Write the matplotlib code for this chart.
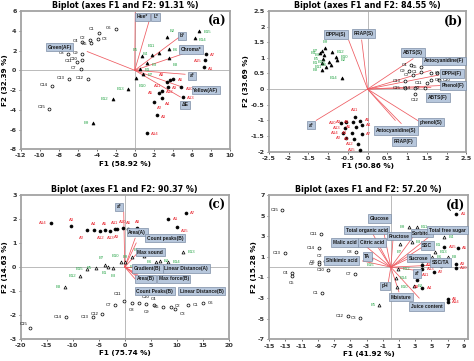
"""Four PCA biplots (a)-(d): sample scores A/B/C plus variable vectors."""

import matplotlib
matplotlib.use("Agg")
import matplotlib.pyplot as plt
import numpy as np

plt.rcParams["font.family"] = ["DejaVu Sans"]

# ---------------------------------------------------------------- data
# panel (a)
A_TITLE = "Biplot (axes F1 and F2: 91.31 %)"
A_XLAB, A_YLAB = "F1 (58.92 %)", "F2 (32.39 %)"
A_GRP_A = [("A1", 7.26, 0.30), ("A2", 2.0, -3.24), ("A3", 2.36, -4.55),
           ("A4", 2.92, -2.8), ("A5", 2.54, -2.26), ("A6", 4.08, -0.84),
           ("A7", 7.5, 1.65), ("A8", 3.73, -0.98), ("A9", 3.45, -1.65),
           ("A10", 4.92, -1.72), ("A11", 3.4, -1.15), ("A12", 2.88, -2.06),
           ("A13", 5.05, -2.67), ("A14", 1.24, -6.31), ("A15", 7.44, 1.05)]
A_GRP_B = [("B1", 0.6, 0.13), ("B2", 3.4, 3.4), ("B3", 1.3, 0.7),
           ("B4", 1.8, 1.5), ("B5", 0.8, 1.4), ("B6", 3.6, 2.2),
           ("B7", 0.9, -0.37), ("B8", 3.6, 1.2), ("B9", -4.4, -5.36),
           ("B10", 0.1, -0.8), ("B11", 2.6, 1.8), ("B12", -2.33, -2.9),
           ("B13", -0.69, -1.92), ("B14", 6.3, 3.25), ("B15", 6.8, 4.0)]
A_GRP_C = [("C1", -3.8, 3.74), ("C2", -4.75, 3.1), ("C3", -3.88, 3.17),
           ("C4", -5.5, 2.85), ("C5", -4.6, 2.8), ("C6", -2.0, 4.18),
           ("C7", -5.7, 0.1), ("C8", -7.0, 1.62), ("C9", -5.5, 1.62),
           ("C10", -5.6, 1.04), ("C11", -6.1, 0.8), ("C12", -4.9, -0.91),
           ("C13", -6.9, -0.91), ("C14", -8.7, -1.59), ("C15", -9.0, -3.9)]
A_VARS = [("Hue*", 0.05, 5.9), ("L*", 1.7, 5.6), ("b*", 4.6, 3.3),
          ("Chroma*", 5.5, 1.8), ("a*", 5.3, -0.4), ("Yellow(AF)", 5.0, -1.7),
          ("ΔE", 4.8, -2.7), ("Green(AF)", -5.0, 1.9)]

# panel (b)
B_TITLE = "Biplot (axes F1 and F2: 84.55 %)"
B_XLAB, B_YLAB = "F1 (50.86 %)", "F2 (33.69 %)"
B_GRP_A = [("A1", -0.35, -1.6), ("A2", -0.55, -1.55), ("A3", -0.4, -1.4),
           ("A4", -0.15, -1.15), ("A5", -0.18, -1.03), ("A6", -0.3, -1.2),
           ("A7", -0.15, -1.45), ("A8", -0.37, -1.05), ("A9", -0.55, -1.05),
           ("A10", -0.68, -1.1), ("A11", -0.32, -0.88), ("A12", -0.25, -1.75),
           ("A13", -0.57, -1.25), ("A14", -0.62, -1.4), ("A15", -0.2, -1.95)]
B_GRP_B = [("B1", -1.15, 0.82), ("B2", -0.78, 0.92), ("B3", -1.1, 1.1),
           ("B4", -1.2, 1.17), ("B5", -1.12, 0.96), ("B6", -0.93, 0.76),
           ("B7", -1.15, 1.22), ("B8", -1.15, 0.6), ("B9", -1.08, 1.3),
           ("B10", -0.8, 1.02), ("B11", -1.05, 0.7), ("B12", -0.9, 1.2),
           ("B13", -0.97, 0.87), ("B14", -0.65, 0.35)]
B_GRP_C = [("C1", 1.35, 0.55), ("C2", 1.45, 0.02), ("C3", 1.6, 0.5),
           ("C4", 1.1, 0.78), ("C5", 1.35, 0.7), ("C6", 1.75, 0.5),
           ("C7", 1.15, 0.45), ("C8", 1.6, 0.3), ("C9", 1.05, 0.58),
           ("C10", 1.8, 0.28), ("C11", 1.5, 0.2), ("C12", 1.2, -0.15),
           ("C13", 0.95, 0.25), ("C14", 1.2, 0.05), ("C15", 0.95, 0.02)]
B_VARS = [("DPPH(S)", -0.48, 1.57), ("FRAP(S)", -0.15, 1.57),
          ("ABTS(S)", 1.15, 0.97), ("Antocyanidine(F)", 1.6, 0.6),
          ("DPPH(F)", 1.8, 0.45), ("Phenol(F)", 1.95, 0.12),
          ("ABTS(F)", 1.6, 0.05), ("phenol(S)", 1.3, -1.03),
          ("Antocyanidine(S)", 0.85, -1.1), ("FRAP(F)", 0.7, -1.0),
          ("a*", -1.3, -1.0)]

# panel (c)
C_TITLE = "Biplot (axes F1 and F2: 90.37 %)"
C_XLAB, C_YLAB = "F1 (75.74 %)", "F2 (14.63 %)"
C_GRP_A = [("A1", 8.4, 1.99), ("A2", -7.2, 1.54), ("A3", -10.3, 1.71),
           ("A4", -5.9, 1.54), ("A5", -3.85, 1.54), ("A6", 0.7, 1.58),
           ("A7", 11.7, 2.24), ("A8", 2.44, 1.61), ("A9", -1.54, 1.58),
           ("A10", -0.38, 1.61), ("A11", -1.86, 1.57), ("A12", -4.7, 1.51),
           ("A13", -2.76, 1.51), ("A14", -14.2, 1.82), ("A15", 10.1, 1.68)]
C_GRP_B = [("B1", -3.2, 0.0), ("B2", 6.7, 0.24), ("B3", -2.2, -0.05),
           ("B4", 0.06, 0.19), ("B5", -5.5, -0.05), ("B6", 6.1, 0.22),
           ("B7", -3.8, 0.1), ("B8", -11.4, -0.85), ("B9", 1.35, 0.43),
           ("B10", -0.77, 0.19), ("B11", 3.7, 0.46), ("B12", -8.6, -0.38),
           ("B13", 11.2, 0.61), ("B14", 8.4, 0.22), ("B15", -7.2, -0.08)]
C_GRP_C = [("C1", 12.2, -1.6), ("C2", 8.85, -1.67), ("C3", 9.7, -1.76),
           ("C4", 5.6, -1.6), ("C5", 7.4, -1.65), ("C6", 15.1, -1.51),
           ("C7", -1.86, -1.6), ("C8", 1.35, -1.49), ("C9", 4.1, -1.54),
           ("C10", 2.8, -1.49), ("C11", -0.19, -1.4), ("C12", -4.3, -1.96),
           ("C13", -6.2, -2.1), ("C14", -11.3, -2.1), ("C15", -18.2, -2.56)]
C_VARS = [("a*", -0.2, 2.3), ("Area(A)", 2.0, 1.2), ("Count peaks(B)", 2.2, 1.0),
          ("Max sound", 2.3, 0.55), ("Gradient(B)", 2.5, -0.05),
          ("Linear Distance(A)", 2.6, 0.0), ("Area(B)", 2.3, -0.4),
          ("Max force(B)", 2.5, -0.3), ("Count Peaks(B)", 2.0, -0.5),
          ("Linear Distance(B)", 2.4, -0.35)]

# panel (d)
D_TITLE = "Biplot (axes F1 and F2: 57.20 %)"
D_XLAB, D_YLAB = "F1 (41.92 %)", "F2 (15.28 %)"
D_GRP_A = [("A1", 8.1, 5.2), ("A2", 5.3, -0.5), ("A3", 3.8, 0.2),
           ("A4", 3.9, -2.0), ("A5", 8.3, 1.9), ("A6", 7.0, -3.1),
           ("A7", 6.2, 0.15), ("A8", 3.2, -1.2), ("A9", 8.0, 0.3),
           ("A10", 8.0, -0.1), ("A11", 3.3, -0.8), ("A12", 3.9, 0.6),
           ("A13", 3.9, -0.2), ("A14", 7.0, -3.4), ("A15", 6.6, 2.0)]
D_GRP_B = [("B1", 5.0, 2.1), ("B2", 2.8, -1.8), ("B3", 2.6, 2.4),
           ("B4", 6.6, 2.9), ("B5", -1.4, -3.7), ("B6", 5.1, 1.0),
           ("B7", 1.1, 2.2), ("B8", 7.0, 1.0), ("B9", 2.3, 3.9),
           ("B10", 0.7, -1.9), ("B11", 3.2, 3.9), ("B12", 0.9, -0.2),
           ("B13", 5.5, 1.5), ("B14", 0.6, -1.1), ("B15", -2.5, 0.9)]
D_GRP_C = [("C1", -8.5, -2.54), ("C2", -8.1, 0.6), ("C3", -3.8, -4.9),
           ("C4", -12.2, -0.6), ("C5", -12.2, -0.85), ("C6", -8.8, 0.45),
           ("C7", -4.4, -0.66), ("C8", -4.25, 1.5), ("C9", -8.9, 0.27),
           ("C10", -7.7, -0.27), ("C11", -8.6, 3.2), ("C12", -5.3, -4.74),
           ("C13", -13.1, 1.4), ("C14", -8.9, 1.83), ("C15", -13.4, 5.54)]
D_VARS = [("Glucose", -1.0, 3.9), ("Total organic acid", -2.2, 3.2),
          ("Malic acid", -3.5, 2.3), ("Citric acid", -1.8, 2.2),
          ("TA", -2.5, 1.0), ("Shikimic acid", -3.5, 0.6),
          ("Fructose", 0.3, 3.0), ("Sorbitol", 2.8, 3.0),
          ("Total free sugar", 5.3, 3.3), ("SSC", 4.0, 2.0),
          ("Sucrose", 2.6, 1.0), ("SSC/TA", 5.5, 0.2), ("a*", 3.0, -0.3),
          ("pH", -0.3, -1.4), ("Moisture", 1.0, -2.4),
          ("Juice content", 3.5, -3.0)]

# ------------------------------------------------------------- layout
# where each variable's box sits (data coords of box centre)
A_BOX = {"Hue*": (0.8, 5.4), "L*": (2.2, 5.4), "b*": (5.0, 3.5),
         "Chroma*": (5.9, 2.1), "a*": (6.0, -0.55), "Yellow(AF)": (7.5, -2.0),
         "ΔE": (5.3, -3.5), "Green(AF)": (-7.9, 2.35)}
B_BOX = {"DPPH(S)": (-0.8, 1.75), "FRAP(S)": (-0.1, 1.78),
         "ABTS(S)": (1.15, 1.17), "Antocyanidine(F)": (1.93, 0.9),
         "DPPH(F)": (2.14, 0.5), "Phenol(F)": (2.15, 0.12),
         "ABTS(F)": (1.78, -0.27), "phenol(S)": (1.6, -1.06),
         "Antocyanidine(S)": (0.72, -1.32), "FRAP(F)": (0.92, -1.68),
         "a*": (-1.42, -1.15)}
C_BOX = {"a*": (-1.1, 2.5), "Area(A)": (2.4, 1.45), "Count peaks(B)": (7.8, 1.2),
         "Max sound": (4.9, 0.62), "Gradient(B)": (4.4, -0.06),
         "Linear Distance(A)": (11.8, -0.06), "Area(B)": (4.0, -0.5),
         "Max force(B)": (9.4, -0.5), "Count Peaks(B)": (5.8, -1.0),
         "Linear Distance(B)": (14.8, -1.0)}
D_BOX = {"Glucose": (-1.4, 4.7), "Total organic acid": (-3.0, 3.6),
         "Malic acid": (-5.7, 2.4), "Citric acid": (-2.3, 2.4),
         "TA": (-2.9, 1.05), "Shikimic acid": (-6.1, 0.65),
         "Fructose": (1.0, 3.0), "Sorbitol": (3.8, 3.3),
         "Total free sugar": (7.0, 3.6), "SSC": (4.5, 2.1),
         "Sucrose": (3.4, 0.86), "SSC/TA": (6.1, 0.44), "a*": (3.2, -0.6),
         "pH": (-0.7, -1.8), "Moisture": (1.3, -2.9),
         "Juice content": (4.4, -3.8)}

RED = "#e8212b"
GREEN = "#2aa64a"
VEC = "#ee5a60"
BOXFC = "#b7c7dc"
BOXEC = "#7d8ea6"
FRAME = "#a3a3a3"
BOXFONT = ["Liberation Sans", "DejaVu Sans"]

# per-point label offsets in points (default per group, then overrides)
OFF = {
    "a": {"A": (3, -1), "B": (3, -1), "C": (-3, 1),
          "over": {"A15": (-3, -1), "A8": (-4, 2), "A11": (-4, -2),
                   "A5": (-4, 0), "B11": (-3, 3), "B4": (-3, 1), "B5": (-3, 3),
                   "B10": (2, -4), "B13": (-3, 0), "B12": (-3, 0), "B9": (-3, 0),
                   "B2": (2, 3), "B8": (3, -3), "A2": (2, -3), "A4": (2, -3),
                   "C1": (-3, 2), "C3": (3, 0), "C5": (-3, -1), "C6": (-3, 1)}},
    "b": {"A": (-3, 0), "B": (-3, 0), "C": (-3, 0),
          "over": {"A11": (0, 3), "A4": (3, 0), "A5": (3, 1), "A7": (3, 0),
                   "B12": (3, 0), "B10": (3, 0), "B2": (3, 0), "B14": (-3, 0),
                   "B9": (0, 3), "C10": (3, 0), "C6": (3, 0), "C3": (3, 0),
                   "C12": (0, -3), "C8": (3, 0)}},
    "c": {"A": (0, 3), "B": (-3, 0), "C": (-3, 0),
          "over": {"A14": (-3, 0), "A2": (-2, -4), "A12": (0, -4),
                   "A13": (0, -4), "A9": (0, -4), "A1": (3, 0), "A15": (3, -2),
                   "A7": (3, 0), "B13": (3, 0), "B2": (3, 0), "B14": (3, 0),
                   "B11": (-2, 3), "B7": (-1, 3), "B1": (-1, -3), "B3": (0, -4),
                   "B10": (-1, 3), "B4": (3, -2), "C8": (0, -4), "C9": (0, -4),
                   "C10": (2, 3), "C4": (0, 3), "C2": (3, 1), "C3": (3, -2),
                   "C1": (3, 0), "C6": (3, 0), "C11": (-2, 3), "C15": (-2, 2)}},
    "d": {"A": (3, 0), "B": (3, 0), "C": (-3, 0),
          "over": {"A7": (-3, 0), "A8": (0, -4), "B9": (-3, 0), "B7": (0, -4),
                   "B15": (0, -4), "B5": (-3, 0), "B10": (3, 0),
                   "C5": (0, -4), "C2": (-2, 2)}},
}


def draw_group(ax, pts, marker, mfc, lab_col, offs, key):
    xs = [p[1] for p in pts]
    ys = [p[2] for p in pts]
    ax.scatter(xs, ys, s=4.5, marker=marker, facecolors=mfc,
               edgecolors="black", linewidths=0.5, zorder=4)
    for name, x, y in pts:
        dx, dy = offs["over"].get(name, offs[key])
        ha = "left" if dx > 0 else ("right" if dx < 0 else "center")
        va = "bottom" if dy > 1 else ("top" if dy < -1 else "center")
        ax.annotate(name, (x, y), xytext=(dx, dy), textcoords="offset points",
                    fontsize=3.1, color=lab_col, ha=ha, va=va, zorder=5,
                    family=BOXFONT)


def plot_panel(ax, title, xlab, ylab, grp_a, grp_b, grp_c, vars_, boxes,
               xlim, ylim, xticks, yticks, tag, offs, tri_fill):
    ax.set_xlim(*xlim)
    ax.set_ylim(*ylim)
    ax.axhline(0, color="#b0b0b0", lw=0.6, zorder=1)
    ax.axvline(0, color="#b0b0b0", lw=0.6, zorder=1)

    for name, x, y in vars_:
        ax.plot([0, x], [0, y], color=VEC, lw=0.55, zorder=2)
        bx, by = boxes[name]
        ax.text(bx, by, name, fontsize=3.5, ha="center", va="center",
                color="#1a1a1a", fontweight="bold", zorder=6, family=BOXFONT,
                bbox=dict(boxstyle="square,pad=0.35", fc=BOXFC, ec=BOXEC, lw=0.5))

    draw_group(ax, grp_c, "o", "white", "black", offs, "C")
    draw_group(ax, grp_b, "^", tri_fill, GREEN, offs, "B")
    draw_group(ax, grp_a, "o", "black", RED, offs, "A")

    ax.set_xticks(xticks)
    ax.set_yticks(yticks)
    ax.set_xticklabels([f"{v:g}" for v in xticks])
    ax.set_yticklabels([f"{v:g}" for v in yticks])
    ax.tick_params(labelsize=4.6, length=1.5, width=0.5, pad=1.5,
                   colors="#333333")
    for lbl in ax.get_xticklabels() + ax.get_yticklabels():
        lbl.set_fontweight("bold")
    for sp in ax.spines.values():
        sp.set_color(FRAME)
        sp.set_linewidth(1.3)
    ax.set_title(title, fontsize=5.8, fontweight="bold", pad=2)
    ax.set_xlabel(xlab, fontsize=5.2, fontweight="bold", labelpad=1.5)
    ax.set_ylabel(ylab, fontsize=5.2, fontweight="bold", labelpad=1)
    ax.text(0.985, 0.97, tag, transform=ax.transAxes, ha="right", va="top",
            fontsize=8.5, fontweight="bold", family="DejaVu Serif", zorder=7)


def main() -> None:
    fig = plt.figure(figsize=(4.74, 3.61), dpi=100)
    ax_a = fig.add_axes([0.0437, 0.5864, 0.441, 0.383])
    ax_b = fig.add_axes([0.567, 0.580, 0.417, 0.3897])
    ax_c = fig.add_axes([0.0437, 0.0609, 0.439, 0.399])
    ax_d = fig.add_axes([0.568, 0.060, 0.419, 0.400])

    plot_panel(ax_a, A_TITLE, A_XLAB, A_YLAB, A_GRP_A, A_GRP_B, A_GRP_C,
               A_VARS, A_BOX, (-12, 10), (-8, 6), np.arange(-12, 11, 2),
               np.arange(-8, 7, 2), "(a)", OFF["a"], "black")
    plot_panel(ax_b, B_TITLE, B_XLAB, B_YLAB, B_GRP_A, B_GRP_B, B_GRP_C,
               B_VARS, B_BOX, (-2.5, 2.5), (-2, 2.5), np.arange(-2.5, 2.51, 0.5),
               np.arange(-2, 2.51, 0.5), "(b)", OFF["b"], "black")
    plot_panel(ax_c, C_TITLE, C_XLAB, C_YLAB, C_GRP_A, C_GRP_B, C_GRP_C,
               C_VARS, C_BOX, (-20, 20), (-3, 3), np.arange(-20, 21, 5),
               np.arange(-3, 4, 1), "(c)", OFF["c"], "white")
    plot_panel(ax_d, D_TITLE, D_XLAB, D_YLAB, D_GRP_A, D_GRP_B, D_GRP_C,
               D_VARS, D_BOX, (-15, 9.5), (-7, 7), np.arange(-15, 10, 2),
               np.arange(-7, 8, 2), "(d)", OFF["d"], "white")

    fig.savefig("out.png", dpi=100)
    plt.close(fig)


if __name__ == "__main__":
    main()
